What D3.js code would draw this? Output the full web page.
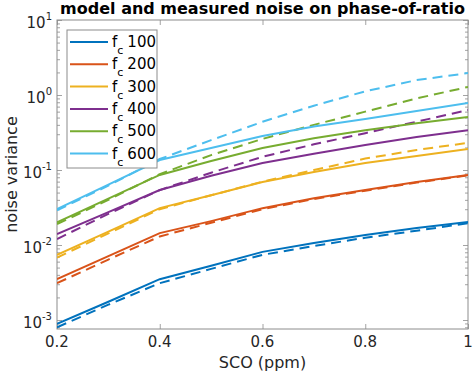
<!DOCTYPE html>
<html>
<head>
<meta charset="utf-8">
<script src="https://cdn.jsdelivr.net/npm/d3@7"></script>
<style>
  body { margin: 0; background: #fff; }
  svg { display: block; font-family: "DejaVu Sans", sans-serif; }
</style>
</head>
<body>
<div id="chart"></div>
<script>
// Data
const SCO = [0.2, 0.3, 0.4, 0.5, 0.6, 0.7, 0.8, 0.9, 1.0];
const FC_LABELS = ['100', '200', '300', '400', '500', '600'];
const COLORS = ['#0072bd', '#d95319', '#edb120', '#7e2f8e', '#77ac30', '#4dbeee'];

// model (solid)
const MODEL_100 = [0.00089, 0.00175, 0.0035, 0.0053, 0.0081, 0.0106, 0.0136, 0.0169, 0.0203];
const MODEL_200 = [0.0035, 0.0071, 0.0144, 0.0208, 0.031, 0.042, 0.054, 0.069, 0.086];
const MODEL_300 = [0.0074, 0.0151, 0.031, 0.046, 0.069, 0.094, 0.124, 0.154, 0.19];
const MODEL_400 = [0.0140, 0.0275, 0.054, 0.084, 0.124, 0.165, 0.215, 0.275, 0.34];
const MODEL_500 = [0.020, 0.0415, 0.086, 0.132, 0.196, 0.265, 0.34, 0.42, 0.51];
const MODEL_600 = [0.030, 0.064, 0.136, 0.196, 0.284, 0.38, 0.48, 0.61, 0.78];

// measured (dashed)
const MEAS_100 = [0.00080, 0.0016, 0.0031, 0.0048, 0.0074, 0.0097, 0.0125, 0.0155, 0.0195];
const MEAS_200 = [0.0031, 0.0064, 0.013, 0.0198, 0.030, 0.041, 0.053, 0.068, 0.085];
const MEAS_300 = [0.0068, 0.0143, 0.030, 0.046, 0.070, 0.10, 0.142, 0.185, 0.23];
const MEAS_400 = [0.012, 0.026, 0.054, 0.092, 0.15, 0.22, 0.31, 0.44, 0.63];
const MEAS_500 = [0.019, 0.040, 0.088, 0.158, 0.26, 0.40, 0.60, 0.90, 1.28];
const MEAS_600 = [0.029, 0.062, 0.14, 0.25, 0.44, 0.72, 1.12, 1.58, 1.96];

const X_TICKS = [0.2, 0.4, 0.6, 0.8, 1];
const Y_TICKS = [-3, -2, -1, 0, 1];

const MODEL = [MODEL_100, MODEL_200, MODEL_300, MODEL_400, MODEL_500, MODEL_600];
const MEAS = [MEAS_100, MEAS_200, MEAS_300, MEAS_400, MEAS_500, MEAS_600];

const W = 474, H = 375;
const MARGIN = { top: 20, right: 6, bottom: 46, left: 57 };
const LINE_COLOR = '#8c8c8c';
const TEXT_COLOR = '#262626';

const svg = d3.select('#chart').append('svg')
    .attr('width', W)
    .attr('height', H);

const xScale = d3.scaleLinear()
    .domain([0.2, 1])
    .range([MARGIN.left, W - MARGIN.right]);
const yScale = d3.scaleLog()
    .domain([Math.pow(10, -3.12), 10])
    .range([H - MARGIN.bottom, MARGIN.top]);

const plotW = W - MARGIN.left - MARGIN.right;
const plotH = H - MARGIN.top - MARGIN.bottom;

// clip
svg.append('clipPath').attr('id', 'clip')
  .append('rect')
    .attr('x', MARGIN.left).attr('y', MARGIN.top)
    .attr('width', plotW).attr('height', plotH);

// Minor ticks on log axis
const minorVals = [];
for (let e = -4; e <= 0; e++) {
    for (let m = 2; m <= 9; m++) {
        const v = m * Math.pow(10, e);
        if (v >= yScale.domain()[0] && v <= 10) minorVals.push(v);
    }
}
const majorVals = Y_TICKS.map(e => Math.pow(10, e));

const axes = svg.append('g').attr('class', 'axes');

// Left / right axes (ticks pointing inward)
[[MARGIN.left, d3.axisRight], [W - MARGIN.right, d3.axisLeft]].forEach(([x, axisFn]) => {
    axes.append('g')
        .attr('transform', `translate(${x},0)`)
        .call(axisFn(yScale).tickValues(minorVals).tickSize(3).tickFormat(''))
        .call(g => g.select('.domain').remove());
    axes.append('g')
        .attr('transform', `translate(${x},0)`)
        .call(axisFn(yScale).tickValues(majorVals).tickSize(5).tickFormat(''))
        .call(g => g.select('.domain').remove());
});
// Bottom / top ticks
axes.append('g')
    .attr('transform', `translate(0,${H - MARGIN.bottom})`)
    .call(d3.axisTop(xScale).tickValues(X_TICKS).tickSize(5).tickFormat(''))
    .call(g => g.select('.domain').remove());
axes.append('g')
    .attr('transform', `translate(0,${MARGIN.top})`)
    .call(d3.axisBottom(xScale).tickValues(X_TICKS).tickSize(5).tickFormat(''))
    .call(g => g.select('.domain').remove());
axes.selectAll('line').attr('stroke', LINE_COLOR).attr('stroke-width', 0.8);

// box
axes.append('rect')
    .attr('x', MARGIN.left).attr('y', MARGIN.top)
    .attr('width', plotW).attr('height', plotH)
    .attr('fill', 'none')
    .attr('stroke', LINE_COLOR)
    .attr('stroke-width', 1);

// X tick labels
svg.append('g').selectAll('text')
    .data(X_TICKS).enter()
  .append('text')
    .attr('x', d => xScale(d))
    .attr('y', H - MARGIN.bottom + 18)
    .attr('text-anchor', 'middle')
    .attr('font-size', 15)
    .attr('fill', TEXT_COLOR)
    .text(d => d === 1 ? '1' : d.toFixed(1));

// Y tick labels 10^n
const yLab = svg.append('g').selectAll('text')
    .data(Y_TICKS).enter()
  .append('text')
    .attr('x', MARGIN.left - 5)
    .attr('y', d => yScale(Math.pow(10, d)) + 8)
    .attr('text-anchor', 'end')
    .attr('font-size', 15)
    .attr('fill', TEXT_COLOR);
yLab.append('tspan').text('10');
yLab.append('tspan')
    .attr('dy', -8)
    .attr('font-size', 10)
    .text(d => d);

// Axis titles
svg.append('text')
    .attr('x', MARGIN.left + plotW / 2)
    .attr('y', H - 7)
    .attr('text-anchor', 'middle')
    .attr('font-size', 16)
    .attr('fill', TEXT_COLOR)
    .text('SCO (ppm)');
svg.append('text')
    .attr('transform', `translate(17,${MARGIN.top + plotH / 2}) rotate(-90)`)
    .attr('text-anchor', 'middle')
    .attr('font-size', 16)
    .attr('fill', TEXT_COLOR)
    .text('noise variance');

// Title
svg.append('text')
    .attr('x', MARGIN.left + plotW / 2)
    .attr('y', 14)
    .attr('text-anchor', 'middle')
    .attr('font-size', 16)
    .attr('font-weight', 'bold')
    .attr('fill', '#000')
    .text('model and measured noise on phase-of-ratio');

// Lines
const line = d3.line()
    .x((d, i) => xScale(SCO[i]))
    .y(d => yScale(d));

const plot = svg.append('g').attr('clip-path', 'url(#clip)');
MEAS.forEach((series, k) => {
    plot.append('path')
        .datum(series)
        .attr('d', line)
        .attr('fill', 'none')
        .attr('stroke', COLORS[k])
        .attr('stroke-width', 2)
        .attr('stroke-dasharray', '10,6');
});
MODEL.forEach((series, k) => {
    plot.append('path')
        .datum(series)
        .attr('d', line)
        .attr('fill', 'none')
        .attr('stroke', COLORS[k])
        .attr('stroke-width', 2);
});

// Legend
const LEG_X = 67, LEG_Y = 30, LEG_W = 90, LEG_H = 138, ROW = 22.3;
const legend = svg.append('g').attr('id', 'legend');
legend.append('rect')
    .attr('x', LEG_X).attr('y', LEG_Y)
    .attr('width', LEG_W).attr('height', LEG_H)
    .attr('fill', '#fff')
    .attr('stroke', LINE_COLOR)
    .attr('stroke-width', 1);
const rows = legend.selectAll('g.row')
    .data(FC_LABELS).enter()
  .append('g')
    .attr('class', 'row')
    .attr('transform', (d, i) => `translate(${LEG_X},${LEG_Y + 12 + i * ROW})`);
rows.append('line')
    .attr('x1', 3).attr('x2', 41)
    .attr('stroke', (d, i) => COLORS[i])
    .attr('stroke-width', 2);
const lt = rows.append('text')
    .attr('x', 45)
    .attr('y', 5)
    .attr('font-size', 15)
    .attr('fill', '#000');
lt.append('tspan').text('f');
lt.append('tspan').attr('dy', 7).attr('font-size', 11).text('c');
lt.append('tspan').attr('dy', -7).attr('dx', 4).text(d => d);
</script>
</body>
</html>
